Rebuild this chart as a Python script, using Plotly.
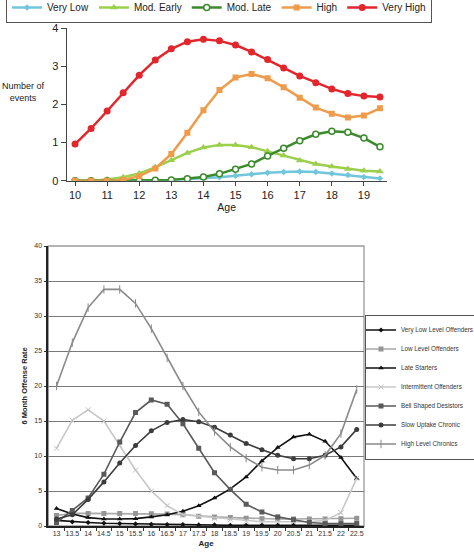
import plotly.graph_objects as go

# ---------------- data: top chart ----------------
ages_top = [10, 10.5, 11, 11.5, 12, 12.5, 13, 13.5, 14, 14.5,
            15, 15.5, 16, 16.5, 17, 17.5, 18, 18.5, 19, 19.5]
top_ticks = [10, 11, 12, 13, 14, 15, 16, 17, 18, 19]
very_low = [0, 0, 0, 0, 0, 0.01, 0.02, 0.04, 0.06, 0.09,
            0.13, 0.17, 0.21, 0.23, 0.24, 0.23, 0.19, 0.15, 0.10, 0.06]
mod_early = [0, 0, 0.03, 0.09, 0.19, 0.35, 0.54, 0.73, 0.87, 0.94,
             0.94, 0.88, 0.77, 0.66, 0.53, 0.44, 0.37, 0.31, 0.26, 0.24]
mod_late = [0, 0, 0, 0, 0, 0.01, 0.02, 0.05, 0.10, 0.18,
            0.30, 0.44, 0.65, 0.85, 1.05, 1.22, 1.30, 1.27, 1.12, 0.89]
high = [0, 0, 0, 0.02, 0.12, 0.32, 0.70, 1.26, 1.85, 2.38,
        2.71, 2.80, 2.69, 2.45, 2.18, 1.92, 1.76, 1.66, 1.71, 1.90]
very_high = [0.96, 1.37, 1.83, 2.31, 2.77, 3.17, 3.46, 3.65, 3.71, 3.67,
             3.56, 3.38, 3.18, 2.96, 2.75, 2.57, 2.41, 2.29, 2.22, 2.20]

# ---------------- data: bottom chart ----------------
ages_bottom = [13, 13.5, 14, 14.5, 15, 15.5, 16, 16.5, 17, 17.5,
               18, 18.5, 19, 19.5, 20, 20.5, 21, 21.5, 22, 22.5]
bottom_tick_labels = ["13", "13.5", "14", "14.5", "15", "15.5", "16", "16.5", "17", "17.5",
                      "18", "18.5", "19", "19.5", "20", "20.5", "21", "21.5", "22", "22.5"]
very_low_level = [0.8, 0.6, 0.5, 0.4, 0.35, 0.3, 0.25, 0.2, 0.2, 0.15,
                  0.15, 0.1, 0.1, 0.1, 0.1, 0.1, 0.1, 0.1, 0.1, 0.1]
low_level = [1.5, 1.8, 1.8, 1.8, 1.8, 1.8, 1.75, 1.7, 1.6, 1.4,
             1.3, 1.2, 1.1, 1.05, 1.0, 1.0, 1.0, 1.0, 1.05, 1.1]
late_starters = [2.5, 1.7, 1.2, 1.0, 1.0, 1.05, 1.3, 1.6, 2.1, 2.9,
                 4.0, 5.3, 7.0, 9.3, 11.2, 12.7, 13.1, 12.1, 9.8, 6.8]
intermittent = [11.1, 15.1, 16.6, 15.0, 11.5, 8.0, 5.0, 2.9, 1.6, 1.4,
                1.1, 0.9, 0.7, 0.6, 0.6, 0.6, 0.6, 0.8, 1.9, 6.8]
bell_shaped = [0.5, 2.2, 4.0, 7.4, 12.0, 16.2, 18.0, 17.4, 14.6, 11.1,
               7.6, 5.2, 3.1, 2.0, 1.3, 0.9, 0.5, 0.35, 0.35, 0.35]
slow_uptake = [1.0, 1.6, 3.8, 6.3, 9.0, 11.5, 13.6, 14.8, 15.2, 14.9,
               14.1, 13.0, 11.8, 10.9, 10.1, 9.6, 9.6, 10.1, 11.3, 13.8]
high_chronic = [20.0, 26.2, 31.2, 33.8, 33.8, 31.8, 28.2, 24.0, 20.0, 16.3,
                13.5, 11.3, 9.7, 8.4, 8.0, 8.0, 8.7, 10.1, 13.2, 19.5]

W, H = 474, 553
FONT = "Arial, Liberation Sans, sans-serif"

fig = go.Figure()

# ---- top chart traces ----
top_series = [
    ("Very Low", very_low, "#72C6DC", dict(symbol="diamond", size=5)),
    ("Mod. Early", mod_early, "#9BCF4C", dict(symbol="triangle-up", size=7)),
    ("Mod. Late", mod_late, "#3B8A2C", dict(symbol="circle", size=6, color="white",
                                           line=dict(color="#3B8A2C", width=1.5))),
    ("High", high, "#EE9B4B", dict(symbol="square", size=6)),
    ("Very High", very_high, "#E2262C", dict(symbol="circle", size=7)),
]
for name, vals, col, mk in top_series:
    m = dict(mk)
    m.setdefault("color", col)
    fig.add_trace(go.Scatter(x=ages_top, y=vals, name=name, mode="lines+markers",
                             line=dict(color=col, width=2.5), marker=m,
                             xaxis="x", yaxis="y", legend="legend"))

# ---- bottom chart traces ----
bottom_series = [
    ("Very Low Level Offenders", very_low_level, "#111111", dict(symbol="diamond", size=4)),
    ("Low Level Offenders", low_level, "#A8A8A8", dict(symbol="square", size=5, color="#959595")),
    ("Late Starters", late_starters, "#111111", dict(symbol="triangle-up", size=5)),
    ("Intermittent Offenders", intermittent, "#C8C8C8", dict(symbol="x-thin", size=5,
                                                             line=dict(color="#C0C0C0", width=1))),
    ("Bell Shaped Desistors", bell_shaped, "#5A5A5A", dict(symbol="square", size=5)),
    ("Slow Uptake Chronic", slow_uptake, "#3C3C3C", dict(symbol="circle", size=5)),
    ("High Level Chronics", high_chronic, "#8A8A8A", dict(symbol="line-ns", size=6,
                                                          line=dict(color="#8A8A8A", width=1))),
]
for name, vals, col, mk in bottom_series:
    m = dict(mk)
    m.setdefault("color", col)
    fig.add_trace(go.Scatter(x=ages_bottom, y=vals, name=name, mode="lines+markers",
                             line=dict(color=col, width=1.6), marker=m,
                             xaxis="x2", yaxis="y2", legend="legend2"))


def px_x(p):
    return p / W


def px_y(p):
    return 1 - p / H


fig.update_layout(
    width=W, height=H,
    margin=dict(l=0, r=0, t=0, b=0, autoexpand=False),
    paper_bgcolor="white", plot_bgcolor="white",
    font=dict(family=FONT, color="#222"),
    showlegend=True,
    xaxis=dict(domain=[px_x(66.7), px_x(386.7)], range=[9.74, 19.71],
               tickvals=top_ticks, ticks="outside", ticklen=4, tickcolor="#444",
               showline=True, linecolor="#444", linewidth=1.2, showgrid=False, zeroline=False,
               tickfont=dict(size=11, color="#222"),
               title=dict(text="Age", font=dict(size=10.5, color="#222"), standoff=2),
               anchor="y"),
    yaxis=dict(domain=[px_y(180.7), px_y(28.3)], range=[0, 4], tickvals=[0, 1, 2, 3, 4],
               ticks="outside", ticklen=5, tickcolor="#444",
               showline=True, linecolor="#444", linewidth=1.2, showgrid=False, zeroline=False,
               tickfont=dict(size=11, color="#222"), anchor="x"),
    xaxis2=dict(domain=[px_x(48.3), px_x(364)], range=[12.74, 22.73],
                tickvals=ages_bottom, ticktext=bottom_tick_labels, ticks="",
                minor=dict(tickvals=[a + 0.25 for a in ages_bottom], ticks="outside",
                           ticklen=3, tickcolor="#333", showgrid=False),
                showline=True, linecolor="#222", linewidth=1.5, showgrid=False, zeroline=False,
                tickfont=dict(size=7, color="#333"),
                title=dict(text="<b>Age</b>", font=dict(size=8, color="#222"), standoff=4),
                anchor="y2"),
    yaxis2=dict(domain=[px_y(526), px_y(246)], range=[0, 40], dtick=5,
                ticks="outside", ticklen=3, tickcolor="#333",
                showline=True, linecolor="#222", linewidth=1.5,
                showgrid=True, gridcolor="#7A7A7A", gridwidth=1.3, zeroline=False,
                tickfont=dict(size=7, color="#333"),
                title=dict(text="<b>6 Month Offense Rate</b>", font=dict(size=7.5, color="#222"),
                           standoff=6),
                anchor="x2"),
    legend=dict(orientation="h", x=px_x(6), xanchor="left", y=px_y(23), yanchor="bottom",
                bordercolor="#555", borderwidth=1, bgcolor="white",
                font=dict(size=10, color="#222"), itemwidth=30, tracegroupgap=0),
    legend2=dict(orientation="v", x=px_x(365), xanchor="left", y=px_y(387), yanchor="middle",
                 bordercolor="#555", borderwidth=1, bgcolor="white", indentation=-5,
                 font=dict(size=6.3, color="#333"), itemwidth=30, tracegroupgap=0),
    shapes=[dict(type="rect", xref="x2 domain", yref="y2 domain", x0=0, x1=1, y0=0, y1=1,
                 line=dict(color="#9A9A9A", width=1.3), layer="below")],
    annotations=[dict(text="Number of<br>events", xref="paper", yref="paper",
                      x=px_x(23), y=px_y(92), xanchor="center", yanchor="middle",
                      showarrow=False, align="center",
                      font=dict(size=9, color="#222"))],
)

fig.write_html("out.html")
